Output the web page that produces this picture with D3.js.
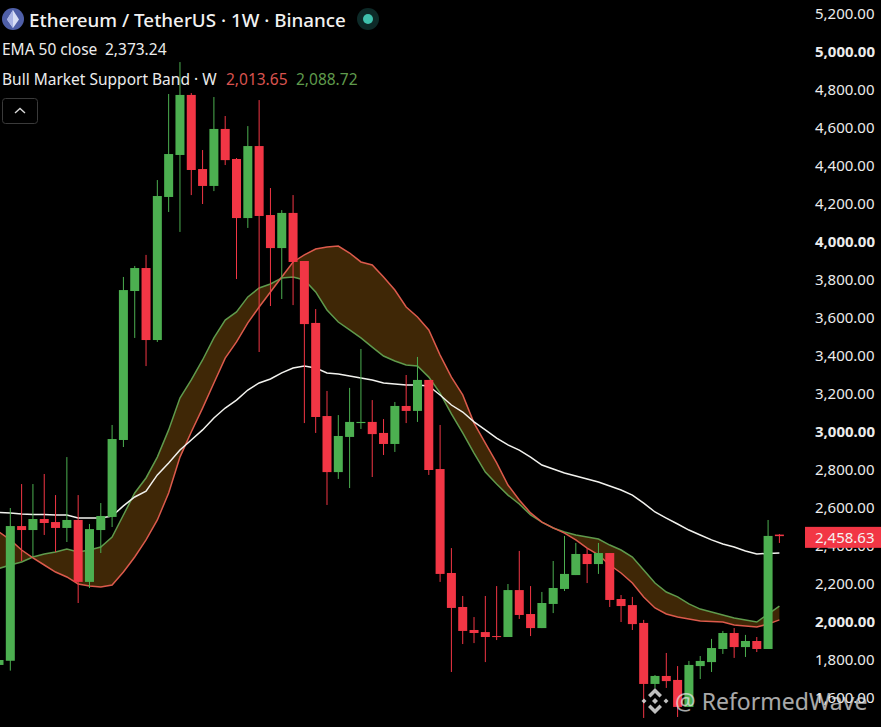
<!DOCTYPE html>
<html>
<head>
<meta charset="utf-8">
<script src="https://cdn.jsdelivr.net/npm/d3@7"></script>
<style>
html, body { margin: 0; padding: 0; background: #000; overflow: hidden; }
text { font-family: "Noto Sans", sans-serif; }
</style>
</head>
<body>
<div id="chart"></div>
<script>
var opens = [1774,1796,2505,2484,2542,2526,2495,2537,2211,2484,
	2553,2958,3742,3863,3484,4237,4458,4774,4384,4295,
	4595,4437,4126,4505,4142,3968,4153,3900,3574,3084,
	2789,2974,3047,3053,2995,2937,3137,3111,3274,2805,
	2258,2079,1958,1947,1926,1921,2168,2042,1968,2095,
	2174,2247,2358,2305,2363,2121,2089,1995,1674,1716,
	1695,1553,1768,1789,1858,1942,1868,1900,1858,2460];
var highs = [1826,2600,2726,2726,2779,2668,2868,2668,2516,2626,
	3037,3816,3874,3932,4326,4779,4947,4784,4484,4763,
	4663,4442,4610,4747,4284,4168,4247,3900,3647,3216,
	3089,3232,3437,3168,3068,3158,3300,3395,3274,3037,
	2389,2137,2026,2137,2189,2200,2374,2189,2158,2321,
	2453,2416,2389,2416,2363,2142,2132,2011,1721,1837,
	1768,1795,1821,1911,1953,1968,1932,1921,2537,2463];
var lows = [1758,1744,2321,2342,2458,2368,2421,2100,2179,2363,
	2500,2921,3495,3347,3474,4158,4053,4247,4200,4268,
	4405,3805,4074,3421,3663,3700,3668,3047,2995,2616,
	2753,2705,3016,2763,2879,2895,3047,3053,2774,2211,
	1737,1884,1889,1789,1905,1921,2016,1926,1968,2047,
	2163,2247,2205,2253,2079,2000,1958,1495,1653,1653,
	1500,1553,1700,1737,1832,1811,1816,1842,1858,2416];
var closes = [1800,2505,2484,2542,2521,2495,2537,2211,2489,2558,
	2963,3747,3863,3484,4242,4463,4774,4379,4295,4595,
	4431,4126,4505,4137,3968,4153,3895,3568,3079,2789,
	2979,3053,3053,2989,2937,3137,3111,3274,2800,2253,
	2074,1953,1942,1921,1921,2168,2037,1968,2100,2179,
	2253,2358,2305,2363,2116,2084,1989,1674,1716,1689,
	1553,1774,1795,1863,1942,1868,1900,1858,2453,2452];
var ema50 = [2576,2574,2568,2566,2566,2563,2563,2547,2547,2547,
	2558,2611,2658,2689,2774,2837,2905,2958,3011,3074,
	3126,3168,3221,3258,3279,3311,3337,3347,3337,3311,
	3305,3295,3284,3274,3258,3253,3247,3247,3242,3195,
	3142,3105,3053,3011,2968,2932,2905,2868,2826,2805,
	2784,2768,2753,2737,2716,2695,2668,2626,2579,2547,
	2516,2484,2458,2432,2411,2395,2374,2358,2361,2363];
var bandGreen = [2282,2300,2316,2342,2358,2368,2384,2368,2379,2395,
	2447,2563,2679,2758,2868,3011,3179,3274,3379,3495,
	3589,3632,3711,3758,3779,3811,3816,3800,3737,3642,
	3579,3537,3495,3447,3400,3374,3353,3347,3289,3205,
	3095,2995,2889,2789,2726,2668,2621,2563,2526,2495,
	2474,2458,2447,2437,2405,2379,2342,2274,2205,2158,
	2132,2095,2068,2053,2037,2021,2011,2000,2042,2084];
var bandRed = [2474,2432,2379,2337,2300,2263,2237,2200,2189,2184,
	2195,2263,2342,2432,2537,2679,2868,3000,3126,3258,
	3389,3474,3574,3658,3737,3816,3895,3932,3963,3974,
	3979,3942,3895,3879,3816,3747,3658,3605,3537,3405,
	3289,3195,3047,2942,2837,2721,2642,2574,2526,2495,
	2468,2432,2389,2353,2300,2258,2205,2132,2074,2042,
	2026,2016,2005,2003,2000,1984,1979,1974,1989,2011];
var priceTicks = [1600,1800,2000,2200,2400,2600,2800,3000,3200,3400,3600,3800,4000,4200,4400,4600,4800,5000,5200];
var lastPrice = 2458.63;

var width = 881;
var height = 727;
var upColor = '#4caf50';
var downColor = '#f23645';
var bodyWidth = 9;

var x = d3.scaleLinear().domain([0, opens.length - 1]).range([-1, 779.4]);
var y = d3.scaleLinear().domain([1600, 5200]).range([698, 14]);

var svg = d3.select('#chart').append('svg')
	.attr('width', width)
	.attr('height', height)
	.style('display', 'block')
	.style('background-color', '#000');

var idx = d3.range(opens.length);

// band fill and lines
svg.append('path')
	.attr('d', d3.area().x(function(i) { return x(i); }).y0(function(i) { return y(bandRed[i]); }).y1(function(i) { return y(bandGreen[i]); })(idx))
	.style('fill', '#3f2706');

function drawLine(values, color, w) {
	svg.append('path')
		.attr('d', d3.line().x(function(i) { return x(i); }).y(function(i) { return y(values[i]); })(idx))
		.style('fill', 'none')
		.style('stroke', color)
		.style('stroke-width', w);
}
drawLine(bandGreen, '#5f9a4c', 1.5);
drawLine(bandRed, '#dc5a4c', 1.5);
drawLine(ema50, '#f2f2ee', 1.5);

function candleColor(i) { return closes[i] >= opens[i] ? upColor : downColor; }

svg.selectAll('line.wick')
	.data(idx)
	.enter()
	.append('line')
	.attr('class', 'wick')
	.attr('x1', function(i) { return x(i); })
	.attr('x2', function(i) { return x(i); })
	.attr('y1', function(i) { return y(highs[i]); })
	.attr('y2', function(i) { return y(lows[i]); })
	.style('stroke', candleColor)
	.style('stroke-width', 1);

svg.selectAll('rect.body')
	.data(idx)
	.enter()
	.append('rect')
	.attr('class', 'body')
	.attr('x', function(i) { return x(i) - bodyWidth / 2; })
	.attr('y', function(i) { return y(Math.max(opens[i], closes[i])); })
	.attr('width', bodyWidth)
	.attr('height', function(i) { return Math.max(1, Math.abs(y(opens[i]) - y(closes[i]))); })
	.style('fill', candleColor);

// price axis
var axis = svg.append('g')
	.attr('transform', 'translate(815,0)')
	.call(d3.axisRight(y).tickValues(priceTicks).tickSize(0).tickPadding(0).tickFormat(d3.format(',.2f')));
axis.select('.domain').remove();
axis.selectAll('text')
	.style('font-family', '"Noto Sans", sans-serif')
	.style('font-size', '15px')
	.style('fill', '#ececec')
	.style('font-weight', function(d) { return d % 1000 === 0 ? 700 : 400; });

// last price tag
svg.append('rect')
	.attr('x', 805).attr('y', y(lastPrice) - 8).attr('width', 76).attr('height', 21)
	.style('fill', downColor);
svg.append('text')
	.text(d3.format(',.2f')(lastPrice))
	.attr('x', 815).attr('y', y(lastPrice) + 8)
	.style('font-size', '15px')
	.style('fill', '#f5f0f0');

// header
svg.append('circle').attr('cx', 13).attr('cy', 19).attr('r', 11).style('fill', '#4f5fa8');
svg.append('path').attr('d', 'M13,10L19,19.5L13,28L7,19.5Z').style('fill', '#d8def5');
svg.append('path').attr('d', 'M13,10L13,28L7,19.5Z').style('fill', '#aab4e6');
svg.append('text').text('Ethereum / TetherUS · 1W · Binance')
	.attr('x', 29).attr('y', 27)
	.style('font-size', '18.8px').style('font-weight', 500).style('fill', '#f2f2f2');
svg.append('circle').attr('cx', 368).attr('cy', 19).attr('r', 11).style('fill', '#0d2a28');
svg.append('circle').attr('cx', 368).attr('cy', 19).attr('r', 5).style('fill', '#3fc1ad');

svg.append('text').text('EMA 50 close').attr('x', 2).attr('y', 55)
	.style('font-size', '15.5px').style('fill', '#ececec');
svg.append('text').text('2,373.24').attr('x', 105).attr('y', 55)
	.style('font-size', '15.5px').style('fill', '#ececec');
svg.append('text').text('Bull Market Support Band · W').attr('x', 2).attr('y', 85)
	.style('font-size', '15.5px').style('fill', '#ececec');
svg.append('text').text('2,013.65').attr('x', 226).attr('y', 85)
	.style('font-size', '15.5px').style('fill', '#d9534f');
svg.append('text').text('2,088.72').attr('x', 296).attr('y', 85)
	.style('font-size', '15.5px').style('fill', '#5f9a4c');

// collapse button
svg.append('rect').attr('x', 2.5).attr('y', 98.5).attr('width', 35).attr('height', 25).attr('rx', 3)
	.style('fill', 'none').style('stroke', '#3a3a3a');
svg.append('path').attr('d', 'M15,113L20,108.5L25,113')
	.style('fill', 'none').style('stroke', '#d8d8d8').style('stroke-width', 1.4);

// watermark
var mark = svg.append('g').attr('transform', 'translate(655,701)').style('fill', '#e2e2e2').style('opacity', 0.85);
mark.append('path').attr('d', 'M0,-13L7,-6L4.5,-3.5L0,-8L-4.5,-3.5L-7,-6Z');
mark.append('path').attr('d', 'M0,13L7,6L4.5,3.5L0,8L-4.5,3.5L-7,6Z');
mark.append('path').attr('d', 'M0,-3L3,0L0,3L-3,0Z');
mark.append('path').attr('d', 'M-11,-2.5L-8.5,0L-11,2.5L-13.5,0Z');
mark.append('path').attr('d', 'M11,-2.5L13.5,0L11,2.5L8.5,0Z');
svg.append('text').text('@ ReformedWave')
	.attr('x', 675).attr('y', 710)
	.style('font-size', '23px')
	.style('fill', '#e2e2e2').style('opacity', 0.75);
</script>
</body>
</html>
